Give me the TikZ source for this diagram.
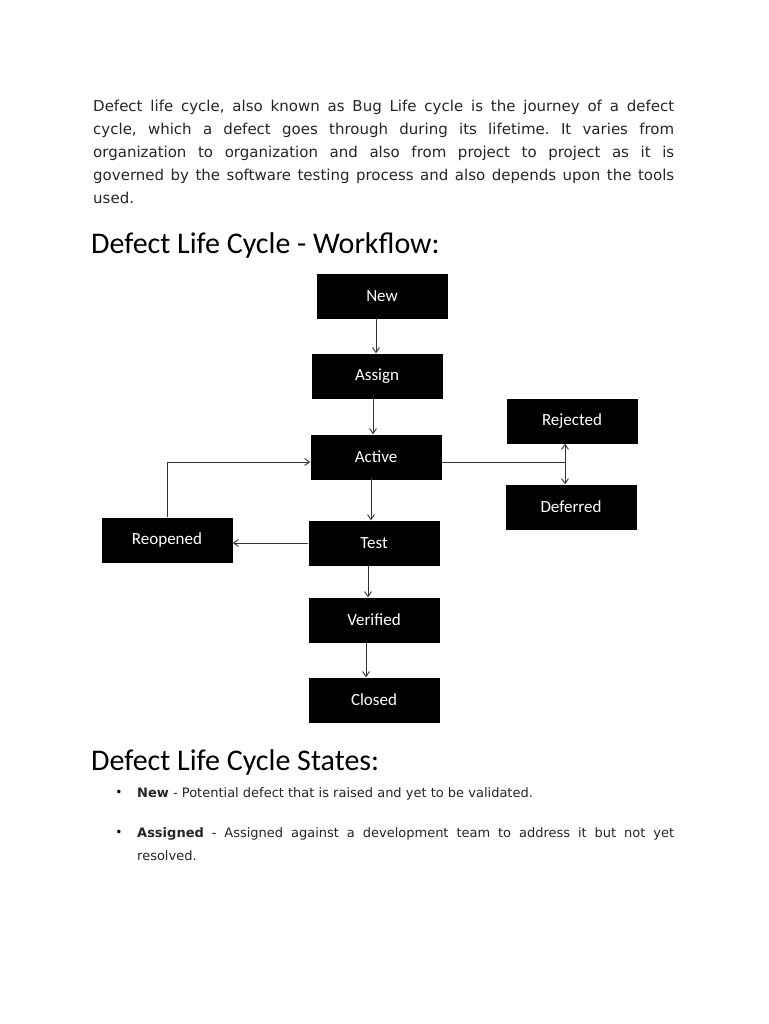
\documentclass[tikz,border=0pt]{standalone}
\usepackage{fontspec}
\setmainfont{DejaVu Sans}
\newfontfamily\headfont{Carlito}
\usetikzlibrary{arrows.meta}
\frenchspacing
\begin{document}
\begin{tikzpicture}[x=1pt,y=-1pt,
  state/.style={fill=black,text=white,minimum width=131pt,minimum height=45pt,
    inner sep=0pt,font=\headfont\fontsize{17}{20}\selectfont},
  arr/.style={draw=black!80,line width=0.9pt,-{Straight Barb[length=5pt,width=7pt]}},
  link/.style={draw=black!80,line width=0.9pt},
  heading/.style={anchor=base west,inner sep=0pt,font=\headfont\fontsize{30}{34}\selectfont},
  body/.style={anchor=north west,inner sep=0pt,text width=#1,align=justify,
    font=\fontsize{15}{23}\selectfont}]
\useasboundingbox[fill=white] (0,0) rectangle (768,1024);

% intro text
\node[body=581pt,text=black!85] (intro) at (93,100) {Defect life cycle, also known as Bug Life cycle is the journey of a defect\linebreak
cycle, which a defect goes through during its lifetime. It varies from\linebreak
organization to organization and also from project to project as it is\linebreak
governed by the software testing process and also depends upon the tools\linebreak
used.};

\node[heading] (title) at (91,253) {Defect Life Cycle - Workflow:};

% states
\node[state] (new) at (382,296) {New};
\node[state] (assign) at (377,376) {Assign};
\node[state] (active) at (376,457) {Active};
\node[state] (rejected) at (572,421) {Rejected};
\node[state] (deferred) at (571,507) {Deferred};
\node[state] (reopened) at (167,540) {Reopened};
\node[state] (test) at (374,543) {Test};
\node[state] (verified) at (374,620) {Verified};
\node[state] (closed) at (374,700) {Closed};

% connectors
\draw[arr] ([xshift=-6pt]new.south) -- ([xshift=-6pt]new.south |- assign.north);
\draw[arr] ([xshift=-4pt]assign.south) -- ([xshift=-4pt]assign.south |- active.north);
\draw[arr] ([xshift=-5pt,yshift=3pt]active.south) -- ([xshift=-5pt]active.south |- test.north);
\draw[arr] ([xshift=-6pt]test.south) -- ([xshift=-6pt]test.south |- verified.north);
\draw[arr] ([xshift=-8pt]verified.south) -- ([xshift=-8pt]verified.south |- closed.north);

\coordinate (split) at ([xshift=-7pt]rejected.south);
\draw[arr,{Straight Barb[length=5pt,width=7pt]}-{Straight Barb[length=5pt,width=7pt]}]
  (split) -- (split |- deferred.north);
\draw[link] ([yshift=-5pt]active.east) -- ([yshift=-5pt]active.east -| split);

\draw[arr] (test.west) -- (test.west -| reopened.east);
\draw[arr] (reopened.north) |- ([yshift=-5pt]active.west);

\node[heading] (states) at (91,770) {Defect Life Cycle States:};

% list of states
\node[anchor=base,inner sep=0pt,font=\fontsize{12}{22}\selectfont] (dot1) at (119,796) {\textbullet};
\node[body=537pt,text=black!85,font=\fontsize{13}{23}\selectfont,anchor=base west] (item1) at (137,797)
  {\textbf{New} - Potential defect that is raised and yet to be validated.};
\node[anchor=base,inner sep=0pt,font=\fontsize{12}{22}\selectfont] (dot2) at (119,836) {\textbullet};
\node[body=537pt,text=black!85,font=\fontsize{13}{23}\selectfont,anchor=north west] (item2) at (137,827)
  {\textbf{Assigned} - Assigned against a development team to address it but not yet\linebreak
  resolved.};
\end{tikzpicture}
\end{document}
